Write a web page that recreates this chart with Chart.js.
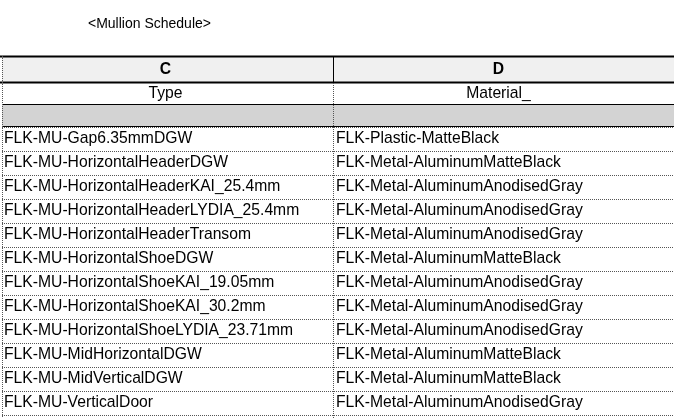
<!DOCTYPE html>
<html><head><meta charset="utf-8">
<script src="https://cdn.jsdelivr.net/npm/chart.js@4/dist/chart.umd.min.js"></script>
<style>html,body{margin:0;padding:0;background:#fff}#w{width:674px;height:418px}</style>
</head><body><div id="w"><canvas id="c"></canvas></div>
<script>
const title = "<Mullion Schedule>";
const columnLetters = ["C", "D"];
const columnHeaders = ["Type", "Material_"];
const types = ["FLK-MU-Gap6.35mmDGW","FLK-MU-HorizontalHeaderDGW","FLK-MU-HorizontalHeaderKAI_25.4mm","FLK-MU-HorizontalHeaderLYDIA_25.4mm","FLK-MU-HorizontalHeaderTransom","FLK-MU-HorizontalShoeDGW","FLK-MU-HorizontalShoeKAI_19.05mm","FLK-MU-HorizontalShoeKAI_30.2mm","FLK-MU-HorizontalShoeLYDIA_23.71mm","FLK-MU-MidHorizontalDGW","FLK-MU-MidVerticalDGW","FLK-MU-VerticalDoor"];
const materials = ["FLK-Plastic-MatteBlack","FLK-Metal-AluminumMatteBlack","FLK-Metal-AluminumAnodisedGray","FLK-Metal-AluminumAnodisedGray","FLK-Metal-AluminumAnodisedGray","FLK-Metal-AluminumMatteBlack","FLK-Metal-AluminumAnodisedGray","FLK-Metal-AluminumAnodisedGray","FLK-Metal-AluminumAnodisedGray","FLK-Metal-AluminumMatteBlack","FLK-Metal-AluminumMatteBlack","FLK-Metal-AluminumAnodisedGray"];

const F = '15.7px Arial, "Liberation Sans", sans-serif';
const tablePlugin = {
  id: 'table',
  afterDraw(chart) {
    const ctx = chart.ctx, x = chart.scales.x, y = chart.scales.y, a = chart.chartArea;
    const L = a.left, R = a.right, M = x.getPixelForValue(1);
    ctx.save();
    ctx.font = '14px Arial, "Liberation Sans", sans-serif';
    ctx.fillStyle = '#000'; ctx.textBaseline = 'middle';
    ctx.fillText(title, 88, 24);
    ctx.fillStyle = '#f0f0f0'; ctx.fillRect(L, 57, R - L, 25);
    ctx.fillStyle = '#d3d3d3'; ctx.fillRect(L, 105, R - L, 21);
    ctx.strokeStyle = '#000';
    ctx.lineWidth = 2;
    [56.5, 82.5].forEach(v => { ctx.beginPath(); ctx.moveTo(0, v); ctx.lineTo(R, v); ctx.stroke(); });
    ctx.lineWidth = 1;
    ctx.beginPath(); ctx.moveTo(L, 104.5); ctx.lineTo(R, 104.5); ctx.moveTo(L, 126.5); ctx.lineTo(R, 126.5); ctx.stroke();
    ctx.beginPath(); ctx.moveTo(M + 0.5, 56); ctx.lineTo(M + 0.5, 82); ctx.stroke();
    ctx.textAlign = 'center';
    ctx.fillStyle = '#000';
    ctx.font = 'bold 15.7px Arial, "Liberation Sans", sans-serif';
    ctx.fillText(columnLetters[0], x.getPixelForValue(0.5) - 2, 70);
    ctx.fillText(columnLetters[1], x.getPixelForValue(1.5), 70);
    ctx.font = F;
    ctx.fillText(columnHeaders[0], x.getPixelForValue(0.5) - 2, 94);
    ctx.fillText(columnHeaders[1], x.getPixelForValue(1.5), 94);
    ctx.textAlign = 'left';
    types.forEach((t, i) => {
      const cy = y.getPixelForValue(i);
      ctx.fillText(t, L + 2, cy);
      ctx.fillText(materials[i], M + 3, cy);
    });
    ctx.setLineDash([1, 1]); ctx.strokeStyle = '#555';
    ctx.beginPath();
    for (let i = 0; i <= types.length; i++) {
      const by = Math.round(y.getPixelForValue(i) - 12) + 0.5;
      ctx.moveTo(L, by); ctx.lineTo(R, by);
    }
    ctx.moveTo(M + 0.5, 83); ctx.lineTo(M + 0.5, a.bottom + 5);
    ctx.moveTo(L + 0.5, 56); ctx.lineTo(L + 0.5, a.bottom + 5);
    ctx.stroke();
    ctx.restore();
  }
};

new Chart(document.getElementById('c'), {
  type: 'bar',
  data: { labels: types, datasets: [{ data: types.map(() => null), backgroundColor: 'transparent' }] },
  options: {
    indexAxis: 'y', responsive: true, maintainAspectRatio: false, animation: false,
    layout: { padding: { top: 127, bottom: 3, left: 2, right: 0 } },
    plugins: { legend: { display: false }, tooltip: { enabled: false } },
    scales: {
      x: { type: 'linear', min: 0, max: 672 / 331, display: false },
      y: { type: 'category', display: false, offset: true }
    }
  },
  plugins: [tablePlugin]
});
</script></body></html>
